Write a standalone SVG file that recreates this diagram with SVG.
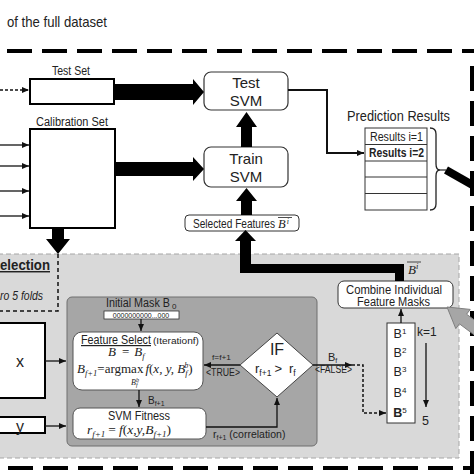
<svg xmlns="http://www.w3.org/2000/svg" width="474" height="474" viewBox="0 0 474 474">
<defs>
<style>
.s{font-family:"Liberation Sans",Arial,sans-serif;fill:#222}
.m{font-family:"Liberation Serif","Times New Roman",serif;font-style:italic;fill:#222}
.mr{font-family:"Liberation Serif","Times New Roman",serif;font-style:normal;fill:#222}
.thin{stroke:#111;stroke-width:1.3;fill:none}
.big{fill:#000}
</style>
<marker id="ah" markerWidth="8" markerHeight="8" refX="7" refY="4" orient="auto" markerUnits="userSpaceOnUse"><path d="M0,1 L7,4 L0,7 Z" fill="#111"/></marker>
</defs>
<rect width="474" height="474" fill="#fff"/>

<!-- outer dashed frame -->
<g id="frame" fill="none" stroke="#000" stroke-width="4">
<line x1="7" y1="51" x2="474" y2="51" stroke-dasharray="25 10"/>
<line x1="472" y1="66" x2="472" y2="474" stroke-dasharray="25 10"/>
<line x1="8" y1="468" x2="474" y2="468" stroke-dasharray="25 10"/>
</g>
<text class="s" x="7" y="27" font-size="15" textLength="100" lengthAdjust="spacingAndGlyphs">of the full dataset</text>

<!-- selection region -->
<g id="selection-region">
<rect x="-10" y="254" width="469" height="204" fill="#d9d9d9" stroke="#a6a6a6" stroke-width="1" stroke-dasharray="5 3"/>
<path d="M58,254 V311 H-2" fill="none" stroke="#111" stroke-width="1.5" stroke-dasharray="4 3"/>
<text class="s" x="0" y="270" font-size="14.5" font-weight="bold" text-decoration="underline" textLength="50" lengthAdjust="spacingAndGlyphs">election</text>
<text class="s" x="0" y="300" font-size="12" font-style="italic" textLength="43" lengthAdjust="spacingAndGlyphs">ro 5 folds</text>
</g>

<!-- inner dark panel -->
<g id="panel">
<rect x="67" y="297" width="250" height="149" rx="5" fill="#a6a6a6" stroke="#6e6e6e" stroke-width="1"/>
</g>

<g id="test-set">
<rect x="30" y="79" width="84" height="25" fill="#fff" stroke="#000" stroke-width="2"/>
<text class="s" x="52" y="75" font-size="12" textLength="38" lengthAdjust="spacingAndGlyphs">Test Set</text>
</g>
<g id="calibration-set">
<rect x="30" y="129" width="85" height="99" fill="#fff" stroke="#000" stroke-width="2"/>
<text class="s" x="36" y="126" font-size="12.5" textLength="72" lengthAdjust="spacingAndGlyphs">Calibration Set</text>
</g>

<g id="test-svm">
<rect x="204" y="72" width="84" height="38" rx="7" fill="#fff" stroke="#333" stroke-width="1.2"/>
<text class="s" x="246" y="88" font-size="15" text-anchor="middle">Test</text>
<text class="s" x="246" y="106" font-size="15" text-anchor="middle">SVM</text>
</g>
<g id="train-svm">
<rect x="204" y="147" width="84" height="40" rx="7" fill="#fff" stroke="#333" stroke-width="1.2"/>
<text class="s" x="246" y="164" font-size="15" text-anchor="middle">Train</text>
<text class="s" x="246" y="182" font-size="15" text-anchor="middle">SVM</text>
</g>
<g id="selected-features">
<rect x="185" y="215" width="114" height="16" rx="4" fill="#fff" stroke="#333" stroke-width="1"/>
<text class="s" x="193" y="227.5" font-size="12"><tspan textLength="82" lengthAdjust="spacingAndGlyphs">Selected Features</tspan><tspan class="m" x="278" font-size="12.5">B</tspan><tspan class="m" font-size="8" dx="1" dy="-4">i</tspan></text>
<line x1="278" y1="217.5" x2="292" y2="217.5" stroke="#222" stroke-width="0.8"/>
</g>

<g id="prediction-results">
<text class="s" x="347" y="121" font-size="15" textLength="103" lengthAdjust="spacingAndGlyphs">Prediction Results</text>
<rect x="365" y="128" width="62" height="82" fill="#fff" stroke="#333" stroke-width="1"/>
<g stroke="#333" stroke-width="1">
<line x1="365" y1="144.5" x2="427" y2="144.5"/>
<line x1="365" y1="161" x2="427" y2="161"/>
<line x1="365" y1="177" x2="427" y2="177"/>
<line x1="365" y1="193.5" x2="427" y2="193.5"/>
</g>
<text class="s" x="370" y="140.5" font-size="12" textLength="53" lengthAdjust="spacingAndGlyphs">Results i=1</text>
<text class="s" x="369" y="157" font-size="12" font-weight="bold" textLength="55" lengthAdjust="spacingAndGlyphs">Results i=2</text>
<path d="M430,128 Q436,128 436,134 V164 Q436,170 440,170 Q436,170 436,176 V204 Q436,210 430,210" fill="none" stroke="#222" stroke-width="1.3"/>
<line x1="440" y1="170" x2="446" y2="170" stroke="#222" stroke-width="1.2"/>
</g>

<g id="x-input">
<rect x="-5" y="323" width="50" height="75" fill="#fff" stroke="#000" stroke-width="2"/>
<text class="s" x="20" y="367" font-size="16" text-anchor="middle">x</text>
</g>
<g id="y-input">
<rect x="-5" y="417" width="50" height="16" fill="#fff" stroke="#000" stroke-width="2"/>
<text class="s" x="20" y="432" font-size="16" text-anchor="middle">y</text>
</g>

<g id="initial-mask">
<text class="s" x="106" y="307" font-size="12"><tspan textLength="64" lengthAdjust="spacingAndGlyphs">Initial Mask B</tspan><tspan x="172" font-size="8" dy="2">0</tspan></text>
<rect x="104" y="311" width="75" height="8" fill="#fff" stroke="#333" stroke-width="0.8"/>
<text class="s" x="141" y="318" font-size="7" text-anchor="middle">0000000000...000</text>
</g>

<g id="feature-select">
<rect x="73" y="332" width="130" height="58" rx="9" fill="#fff" stroke="#555" stroke-width="1"/>
<text class="s" x="81" y="344" font-size="12" text-decoration="underline" textLength="70" lengthAdjust="spacingAndGlyphs">Feature Select</text>
<text class="s" x="153" y="344" font-size="8.5" textLength="46" lengthAdjust="spacingAndGlyphs">(Iterationf)</text>
<text class="m" x="108" y="356" font-size="13">B<tspan class="mr" dx="6">=</tspan><tspan dx="5">B</tspan><tspan font-size="8.5" dy="3">f</tspan></text>
<text class="m" x="77" y="373" font-size="13">B<tspan font-size="8.5" dy="3">f+1</tspan><tspan class="mr" dy="-3">=argmax</tspan><tspan dx="2">f</tspan><tspan class="mr">(</tspan>x, y, B<tspan font-size="8.5" dy="3">f</tspan><tspan font-size="7.5" dx="-3" dy="-8">b</tspan><tspan class="mr" dy="5">)</tspan></text>
<text class="m" x="131" y="385" font-size="8">B<tspan font-size="6" dy="-3">b</tspan><tspan font-size="6" dx="-3" dy="5">f</tspan></text>
</g>

<g id="svm-fitness">
<rect x="73" y="408" width="133" height="31" rx="7" fill="#fff" stroke="#555" stroke-width="1"/>
<text class="s" x="108" y="420" font-size="12.5" textLength="62" lengthAdjust="spacingAndGlyphs">SVM Fitness</text>
<text class="m" x="87" y="434" font-size="13.5">r<tspan font-size="9" dy="3">f+1</tspan><tspan class="mr" dy="-3" dx="3">=</tspan><tspan dx="3">f</tspan><tspan class="mr">(</tspan>x,y,B<tspan font-size="9" dy="3">f+1</tspan><tspan class="mr" dy="-3">)</tspan></text>
</g>

<g id="if-decision">
<polygon points="277,333 313,365 277,397 240,365" fill="#fff" stroke="#444" stroke-width="1"/>
<text class="s" x="277" y="355" font-size="16" text-anchor="middle">IF</text>
<text class="s" x="255" y="373" font-size="13">r<tspan font-size="8.5" dy="3">f+1</tspan><tspan dy="-3" dx="3">&gt;</tspan><tspan dx="7">r</tspan><tspan font-size="8.5" dy="3">f</tspan></text>
</g>

<g id="b-list">
<rect x="387" y="323" width="28" height="100" fill="#fff" stroke="#333" stroke-width="1"/>
<text class="s" x="400" y="338" font-size="12.5" text-anchor="middle">B<tspan font-size="8" dy="-4">1</tspan></text>
<text class="s" x="400" y="357" font-size="12.5" text-anchor="middle">B<tspan font-size="8" dy="-4">2</tspan></text>
<text class="s" x="400" y="376" font-size="12.5" text-anchor="middle">B<tspan font-size="8" dy="-4">3</tspan></text>
<text class="s" x="400" y="397" font-size="12.5" text-anchor="middle">B<tspan font-size="8" dy="-4">4</tspan></text>
<text class="s" x="400" y="417" font-size="12.5" font-weight="bold" text-anchor="middle">B<tspan font-size="8" font-weight="normal" dy="-4">5</tspan></text>
<text class="s" x="417" y="336" font-size="12">k=1</text>
<text class="s" x="422" y="425" font-size="12.5">5</text>
</g>

<g id="combine">
<rect x="338" y="281" width="115" height="27" rx="6" fill="#fff" stroke="#333" stroke-width="1"/>
<text class="s" x="346" y="293.5" font-size="12.5" textLength="96" lengthAdjust="spacingAndGlyphs">Combine Individual</text>
<text class="s" x="357" y="305.5" font-size="12.5" textLength="73" lengthAdjust="spacingAndGlyphs">Feature Masks</text>
<text class="m" x="408" y="274" font-size="13">B<tspan font-size="8.5" dy="-5">i</tspan></text>
<line x1="407" y1="262" x2="421" y2="262" stroke="#222" stroke-width="0.8"/>
</g>

<!-- connectors -->
<g id="connectors">
<line x1="0" y1="90" x2="29" y2="90" stroke="#111" stroke-width="1.3" stroke-dasharray="3 2" marker-end="url(#ah)"/>
<line x1="0" y1="145" x2="29" y2="145" class="thin" marker-end="url(#ah)"/>
<line x1="0" y1="166" x2="29" y2="166" class="thin" marker-end="url(#ah)"/>
<line x1="0" y1="191" x2="29" y2="191" class="thin" marker-end="url(#ah)"/>
<line x1="0" y1="216" x2="29" y2="216" class="thin" marker-end="url(#ah)"/>
<!-- big arrows -->
<polygon class="big" points="114,84 193,84 193,79 204,92 193,105 193,100 114,100"/>
<polygon class="big" points="115,162 193,162 193,157 204,169 193,181 193,176 115,176"/>
<polygon class="big" points="241,147 241,127 236,127 246.5,112 257,127 252,127 252,147"/>
<polygon class="big" points="241,215 241,201 236,201 246.5,188 257,201 252,201 252,215"/>
<polygon class="big" points="52,228 64,228 64,239 70,239 58,254 46,239 52,239"/>
<polygon class="big" points="240,273 240,241 235,241 245.5,230 256,241 251,241 251,264 404,264 404,281 395,281 395,273"/>
<!-- test svm to results -->
<polyline points="288,90 327,90 327,153 364,153" fill="none" stroke="#111" stroke-width="2" marker-end="url(#ah)"/>
<!-- brace to outside -->
<line x1="446" y1="170" x2="476" y2="187" stroke="#000" stroke-width="8"/>
<!-- gray arrow -->
<polygon points="447,307 470.2,309.4 466.6,314.2 486.6,329.2 479.4,338.8 459.4,323.8 455.8,328.6" fill="#a6a6a6" stroke="#7f7f7f" stroke-width="1"/>
<!-- inner panel connectors -->
<line x1="45" y1="361" x2="66" y2="361" class="thin" marker-end="url(#ah)"/>
<line x1="45" y1="426" x2="66" y2="426" class="thin" marker-end="url(#ah)"/>
<line x1="141" y1="319" x2="141" y2="331" class="thin" marker-end="url(#ah)"/>
<line x1="139" y1="390" x2="139" y2="407" class="thin" marker-end="url(#ah)"/>
<text class="s" x="148" y="404" font-size="10">B<tspan font-size="7" dy="2">f+1</tspan></text>
<line x1="240" y1="365" x2="204" y2="365" class="thin" marker-end="url(#ah)"/>
<text class="s" x="212" y="360" font-size="8" textLength="19" lengthAdjust="spacingAndGlyphs">f=f+1</text>
<text class="s" x="206" y="375.5" font-size="10" textLength="34" lengthAdjust="spacingAndGlyphs">&lt;TRUE&gt;</text>
<polyline points="206,427 277,427 277,398" fill="none" stroke="#111" stroke-width="1.3" marker-end="url(#ah)"/>
<text class="s" x="213" y="438" font-size="10.5">r<tspan font-size="7" dy="2">f+1</tspan><tspan dy="-2"> (correlation)</tspan></text>
<line x1="313" y1="365" x2="352" y2="365" class="thin" marker-end="url(#ah)"/>
<text class="s" x="328" y="361" font-size="11">B<tspan font-size="7" dy="2">f</tspan></text>
<text class="s" x="315" y="372.5" font-size="10" textLength="37" lengthAdjust="spacingAndGlyphs">&lt;FALSE&gt;</text>
<polyline points="352,365 363,365 363,413 386,413" fill="none" stroke="#111" stroke-width="1.5" stroke-dasharray="3 2" marker-end="url(#ah)"/>
<line x1="401" y1="323" x2="401" y2="309" class="thin" marker-end="url(#ah)"/>
<line x1="426" y1="343" x2="426" y2="407" class="thin" marker-end="url(#ah)"/>
</g>
</svg>
